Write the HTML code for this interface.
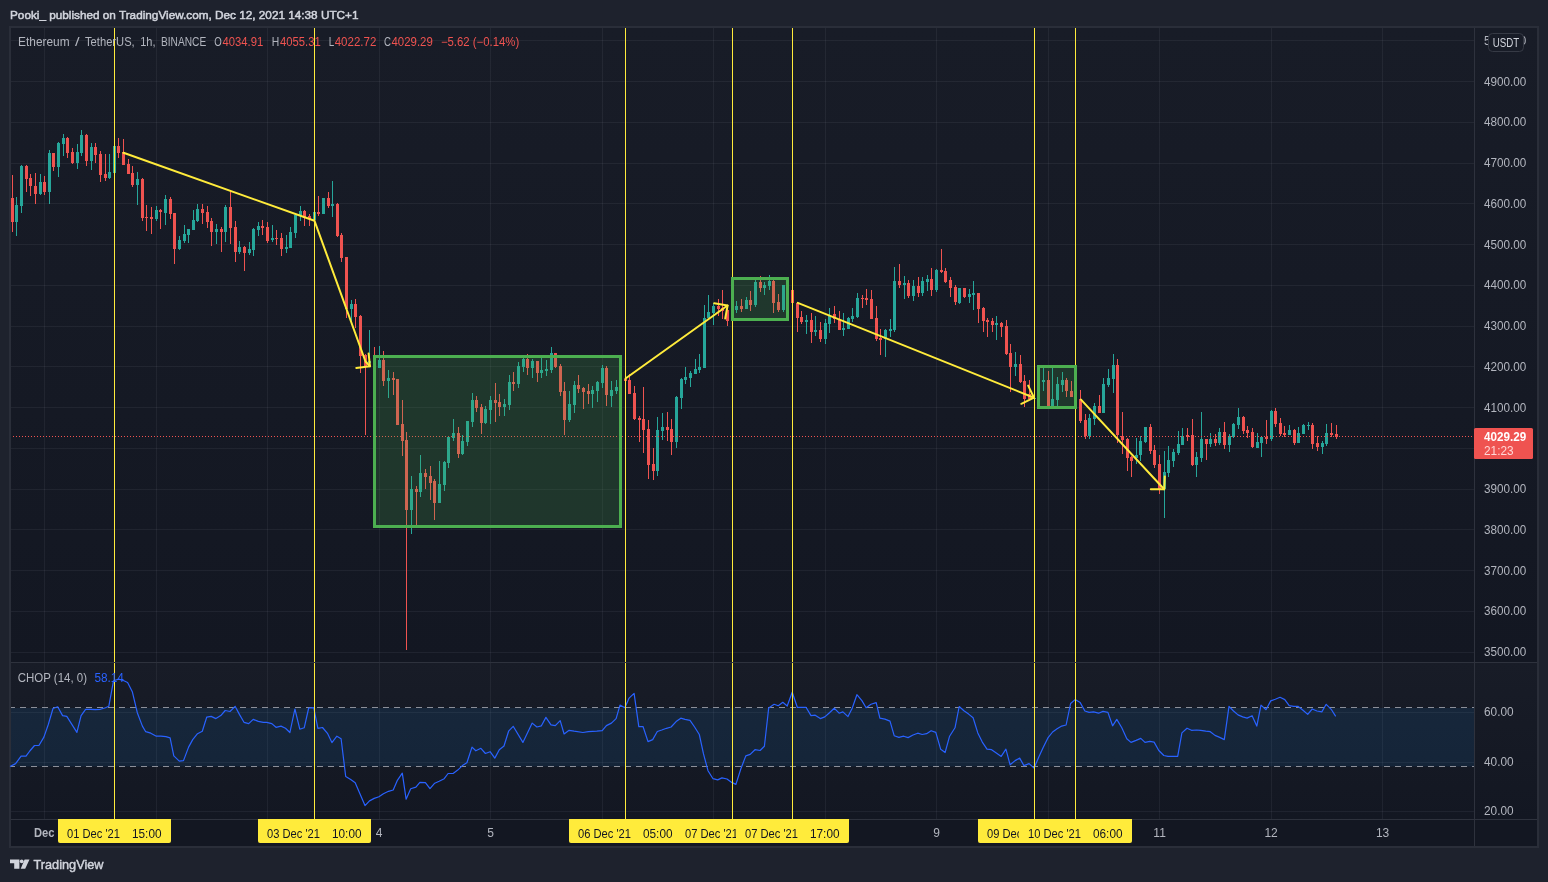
<!DOCTYPE html>
<html><head><meta charset="utf-8"><title>ETHUSDT chart</title>
<style>html,body{margin:0;padding:0;background:#1e222d;overflow:hidden}body{width:1548px;height:882px;font-family:"Liberation Sans",sans-serif}</style></head>
<body>
<svg width="1548" height="882" viewBox="0 0 1548 882" style="display:block;will-change:transform" font-family="Liberation Sans, sans-serif" font-size="12">
<rect width="1548" height="882" fill="#1e222d"/>
<rect x="9" y="26" width="1530" height="822" fill="#2a2e39"/>
<defs><linearGradient id="pg" x1="0" y1="0" x2="0" y2="1"><stop offset="0" stop-color="#181c27"/><stop offset="1" stop-color="#131722"/></linearGradient></defs>
<rect x="11" y="28" width="1526" height="634" fill="url(#pg)"/>
<rect x="11" y="662" width="1526" height="157" fill="url(#pg)"/>
<rect x="11" y="819" width="1526" height="27" fill="#131722"/>
<g fill="#f0f3fa" fill-opacity="0.06" shape-rendering="crispEdges">
<rect x="44" y="28" width="1" height="634"/>
<rect x="44" y="663" width="1" height="156"/>
<rect x="156" y="28" width="1" height="634"/>
<rect x="156" y="663" width="1" height="156"/>
<rect x="267" y="28" width="1" height="634"/>
<rect x="267" y="663" width="1" height="156"/>
<rect x="379" y="28" width="1" height="634"/>
<rect x="379" y="663" width="1" height="156"/>
<rect x="490" y="28" width="1" height="634"/>
<rect x="490" y="663" width="1" height="156"/>
<rect x="602" y="28" width="1" height="634"/>
<rect x="602" y="663" width="1" height="156"/>
<rect x="713" y="28" width="1" height="634"/>
<rect x="713" y="663" width="1" height="156"/>
<rect x="825" y="28" width="1" height="634"/>
<rect x="825" y="663" width="1" height="156"/>
<rect x="936" y="28" width="1" height="634"/>
<rect x="936" y="663" width="1" height="156"/>
<rect x="1048" y="28" width="1" height="634"/>
<rect x="1048" y="663" width="1" height="156"/>
<rect x="1159" y="28" width="1" height="634"/>
<rect x="1159" y="663" width="1" height="156"/>
<rect x="1271" y="28" width="1" height="634"/>
<rect x="1271" y="663" width="1" height="156"/>
<rect x="1382" y="28" width="1" height="634"/>
<rect x="1382" y="663" width="1" height="156"/>
<rect x="11" y="40" width="1463" height="1"/>
<rect x="11" y="81" width="1463" height="1"/>
<rect x="11" y="122" width="1463" height="1"/>
<rect x="11" y="163" width="1463" height="1"/>
<rect x="11" y="203" width="1463" height="1"/>
<rect x="11" y="244" width="1463" height="1"/>
<rect x="11" y="285" width="1463" height="1"/>
<rect x="11" y="326" width="1463" height="1"/>
<rect x="11" y="366" width="1463" height="1"/>
<rect x="11" y="407" width="1463" height="1"/>
<rect x="11" y="448" width="1463" height="1"/>
<rect x="11" y="489" width="1463" height="1"/>
<rect x="11" y="529" width="1463" height="1"/>
<rect x="11" y="570" width="1463" height="1"/>
<rect x="11" y="611" width="1463" height="1"/>
<rect x="11" y="652" width="1463" height="1"/>
<rect x="11" y="712" width="1463" height="1"/>
<rect x="11" y="762" width="1463" height="1"/>
<rect x="11" y="811" width="1463" height="1"/>
</g>
<rect x="11" y="708" width="1463" height="58.5" fill="#2196f3" fill-opacity="0.1"/>
<g shape-rendering="crispEdges">
<rect x="12" y="175" width="1" height="57" fill="#ef5350"/>
<rect x="11" y="198" width="3" height="24" fill="#ef5350"/>
<rect x="16" y="197" width="1" height="39" fill="#26a69a"/>
<rect x="15" y="205" width="3" height="17" fill="#26a69a"/>
<rect x="21" y="165" width="1" height="48" fill="#26a69a"/>
<rect x="20" y="166" width="3" height="40" fill="#26a69a"/>
<rect x="26" y="165" width="1" height="27" fill="#ef5350"/>
<rect x="25" y="166" width="3" height="13" fill="#ef5350"/>
<rect x="30" y="174" width="1" height="22" fill="#ef5350"/>
<rect x="29" y="178" width="3" height="8" fill="#ef5350"/>
<rect x="35" y="173" width="1" height="31" fill="#ef5350"/>
<rect x="34" y="186" width="3" height="8" fill="#ef5350"/>
<rect x="40" y="174" width="1" height="21" fill="#26a69a"/>
<rect x="39" y="182" width="3" height="12" fill="#26a69a"/>
<rect x="44" y="176" width="1" height="19" fill="#ef5350"/>
<rect x="43" y="182" width="3" height="10" fill="#ef5350"/>
<rect x="49" y="150" width="1" height="54" fill="#26a69a"/>
<rect x="48" y="153" width="3" height="39" fill="#26a69a"/>
<rect x="53" y="153" width="1" height="18" fill="#ef5350"/>
<rect x="52" y="153" width="3" height="14" fill="#ef5350"/>
<rect x="58" y="142" width="1" height="35" fill="#26a69a"/>
<rect x="57" y="143" width="3" height="24" fill="#26a69a"/>
<rect x="63" y="134" width="1" height="22" fill="#26a69a"/>
<rect x="62" y="138" width="3" height="6" fill="#26a69a"/>
<rect x="67" y="137" width="1" height="21" fill="#ef5350"/>
<rect x="66" y="138" width="3" height="15" fill="#ef5350"/>
<rect x="72" y="148" width="1" height="16" fill="#ef5350"/>
<rect x="71" y="152" width="3" height="11" fill="#ef5350"/>
<rect x="77" y="144" width="1" height="25" fill="#26a69a"/>
<rect x="76" y="152" width="3" height="11" fill="#26a69a"/>
<rect x="81" y="130" width="1" height="26" fill="#26a69a"/>
<rect x="80" y="135" width="3" height="18" fill="#26a69a"/>
<rect x="86" y="134" width="1" height="32" fill="#ef5350"/>
<rect x="85" y="135" width="3" height="26" fill="#ef5350"/>
<rect x="91" y="143" width="1" height="27" fill="#26a69a"/>
<rect x="90" y="147" width="3" height="14" fill="#26a69a"/>
<rect x="95" y="143" width="1" height="20" fill="#ef5350"/>
<rect x="94" y="147" width="3" height="8" fill="#ef5350"/>
<rect x="100" y="151" width="1" height="31" fill="#ef5350"/>
<rect x="99" y="154" width="3" height="21" fill="#ef5350"/>
<rect x="105" y="154" width="1" height="27" fill="#ef5350"/>
<rect x="104" y="174" width="3" height="4" fill="#ef5350"/>
<rect x="109" y="154" width="1" height="25" fill="#26a69a"/>
<rect x="108" y="172" width="3" height="6" fill="#26a69a"/>
<rect x="114" y="142" width="1" height="31" fill="#26a69a"/>
<rect x="113" y="146" width="3" height="27" fill="#26a69a"/>
<rect x="118" y="138" width="1" height="20" fill="#ef5350"/>
<rect x="117" y="146" width="3" height="7" fill="#ef5350"/>
<rect x="123" y="139" width="1" height="26" fill="#ef5350"/>
<rect x="122" y="152" width="3" height="13" fill="#ef5350"/>
<rect x="128" y="159" width="1" height="15" fill="#ef5350"/>
<rect x="127" y="164" width="3" height="10" fill="#ef5350"/>
<rect x="132" y="166" width="1" height="21" fill="#ef5350"/>
<rect x="131" y="173" width="3" height="12" fill="#ef5350"/>
<rect x="137" y="172" width="1" height="33" fill="#26a69a"/>
<rect x="136" y="179" width="3" height="6" fill="#26a69a"/>
<rect x="142" y="178" width="1" height="43" fill="#ef5350"/>
<rect x="141" y="179" width="3" height="39" fill="#ef5350"/>
<rect x="146" y="205" width="1" height="26" fill="#ef5350"/>
<rect x="145" y="217" width="3" height="1" fill="#ef5350"/>
<rect x="151" y="207" width="1" height="27" fill="#ef5350"/>
<rect x="150" y="217" width="3" height="2" fill="#ef5350"/>
<rect x="156" y="206" width="1" height="15" fill="#26a69a"/>
<rect x="155" y="210" width="3" height="9" fill="#26a69a"/>
<rect x="160" y="209" width="1" height="20" fill="#ef5350"/>
<rect x="159" y="210" width="3" height="2" fill="#ef5350"/>
<rect x="165" y="195" width="1" height="30" fill="#26a69a"/>
<rect x="164" y="199" width="3" height="14" fill="#26a69a"/>
<rect x="170" y="197" width="1" height="22" fill="#ef5350"/>
<rect x="169" y="199" width="3" height="15" fill="#ef5350"/>
<rect x="174" y="213" width="1" height="51" fill="#ef5350"/>
<rect x="173" y="213" width="3" height="36" fill="#ef5350"/>
<rect x="179" y="236" width="1" height="14" fill="#26a69a"/>
<rect x="178" y="240" width="3" height="9" fill="#26a69a"/>
<rect x="184" y="225" width="1" height="18" fill="#26a69a"/>
<rect x="183" y="234" width="3" height="7" fill="#26a69a"/>
<rect x="188" y="229" width="1" height="14" fill="#26a69a"/>
<rect x="187" y="229" width="3" height="6" fill="#26a69a"/>
<rect x="193" y="210" width="1" height="20" fill="#26a69a"/>
<rect x="192" y="220" width="3" height="10" fill="#26a69a"/>
<rect x="197" y="204" width="1" height="18" fill="#26a69a"/>
<rect x="196" y="209" width="3" height="12" fill="#26a69a"/>
<rect x="202" y="204" width="1" height="20" fill="#ef5350"/>
<rect x="201" y="209" width="3" height="4" fill="#ef5350"/>
<rect x="207" y="206" width="1" height="22" fill="#ef5350"/>
<rect x="206" y="212" width="3" height="10" fill="#ef5350"/>
<rect x="211" y="218" width="1" height="28" fill="#ef5350"/>
<rect x="210" y="221" width="3" height="11" fill="#ef5350"/>
<rect x="216" y="224" width="1" height="20" fill="#26a69a"/>
<rect x="215" y="229" width="3" height="3" fill="#26a69a"/>
<rect x="221" y="227" width="1" height="25" fill="#ef5350"/>
<rect x="220" y="229" width="3" height="3" fill="#ef5350"/>
<rect x="225" y="205" width="1" height="37" fill="#26a69a"/>
<rect x="224" y="207" width="3" height="25" fill="#26a69a"/>
<rect x="230" y="190" width="1" height="54" fill="#ef5350"/>
<rect x="229" y="207" width="3" height="21" fill="#ef5350"/>
<rect x="235" y="221" width="1" height="41" fill="#ef5350"/>
<rect x="234" y="227" width="3" height="25" fill="#ef5350"/>
<rect x="239" y="241" width="1" height="13" fill="#26a69a"/>
<rect x="238" y="247" width="3" height="5" fill="#26a69a"/>
<rect x="244" y="246" width="1" height="25" fill="#ef5350"/>
<rect x="243" y="247" width="3" height="6" fill="#ef5350"/>
<rect x="249" y="242" width="1" height="13" fill="#26a69a"/>
<rect x="248" y="249" width="3" height="4" fill="#26a69a"/>
<rect x="253" y="228" width="1" height="28" fill="#26a69a"/>
<rect x="252" y="229" width="3" height="21" fill="#26a69a"/>
<rect x="258" y="222" width="1" height="14" fill="#26a69a"/>
<rect x="257" y="226" width="3" height="4" fill="#26a69a"/>
<rect x="262" y="220" width="1" height="15" fill="#ef5350"/>
<rect x="261" y="226" width="3" height="2" fill="#ef5350"/>
<rect x="267" y="222" width="1" height="21" fill="#ef5350"/>
<rect x="266" y="227" width="3" height="14" fill="#ef5350"/>
<rect x="272" y="225" width="1" height="17" fill="#26a69a"/>
<rect x="271" y="238" width="3" height="2" fill="#26a69a"/>
<rect x="276" y="230" width="1" height="15" fill="#ef5350"/>
<rect x="275" y="238" width="3" height="1" fill="#ef5350"/>
<rect x="281" y="233" width="1" height="23" fill="#ef5350"/>
<rect x="280" y="238" width="3" height="11" fill="#ef5350"/>
<rect x="286" y="235" width="1" height="18" fill="#26a69a"/>
<rect x="285" y="247" width="3" height="2" fill="#26a69a"/>
<rect x="290" y="227" width="1" height="21" fill="#26a69a"/>
<rect x="289" y="232" width="3" height="16" fill="#26a69a"/>
<rect x="295" y="215" width="1" height="23" fill="#26a69a"/>
<rect x="294" y="215" width="3" height="18" fill="#26a69a"/>
<rect x="300" y="206" width="1" height="15" fill="#26a69a"/>
<rect x="299" y="211" width="3" height="4" fill="#26a69a"/>
<rect x="304" y="210" width="1" height="16" fill="#ef5350"/>
<rect x="303" y="211" width="3" height="7" fill="#ef5350"/>
<rect x="309" y="214" width="1" height="12" fill="#ef5350"/>
<rect x="308" y="216" width="3" height="3" fill="#ef5350"/>
<rect x="314" y="211" width="1" height="10" fill="#26a69a"/>
<rect x="313" y="212" width="3" height="8" fill="#26a69a"/>
<rect x="318" y="196" width="1" height="20" fill="#ef5350"/>
<rect x="317" y="212" width="3" height="2" fill="#ef5350"/>
<rect x="323" y="198" width="1" height="16" fill="#26a69a"/>
<rect x="322" y="198" width="3" height="16" fill="#26a69a"/>
<rect x="328" y="192" width="1" height="16" fill="#ef5350"/>
<rect x="327" y="198" width="3" height="8" fill="#ef5350"/>
<rect x="332" y="181" width="1" height="36" fill="#26a69a"/>
<rect x="331" y="204" width="3" height="2" fill="#26a69a"/>
<rect x="337" y="203" width="1" height="34" fill="#ef5350"/>
<rect x="336" y="204" width="3" height="32" fill="#ef5350"/>
<rect x="341" y="233" width="1" height="29" fill="#ef5350"/>
<rect x="340" y="235" width="3" height="23" fill="#ef5350"/>
<rect x="346" y="257" width="1" height="61" fill="#ef5350"/>
<rect x="345" y="257" width="3" height="52" fill="#ef5350"/>
<rect x="351" y="300" width="1" height="22" fill="#26a69a"/>
<rect x="350" y="304" width="3" height="5" fill="#26a69a"/>
<rect x="355" y="299" width="1" height="29" fill="#ef5350"/>
<rect x="354" y="304" width="3" height="13" fill="#ef5350"/>
<rect x="360" y="315" width="1" height="58" fill="#ef5350"/>
<rect x="359" y="316" width="3" height="40" fill="#ef5350"/>
<rect x="365" y="354" width="1" height="81" fill="#ef5350"/>
<rect x="364" y="355" width="3" height="11" fill="#ef5350"/>
<rect x="369" y="330" width="1" height="35" fill="#26a69a"/>
<rect x="368" y="361" width="3" height="2" fill="#26a69a"/>
<rect x="374" y="347" width="1" height="20" fill="#ef5350"/>
<rect x="373" y="356" width="3" height="9" fill="#ef5350"/>
<rect x="379" y="346" width="1" height="22" fill="#26a69a"/>
<rect x="378" y="360" width="3" height="8" fill="#26a69a"/>
<rect x="383" y="351" width="1" height="35" fill="#ef5350"/>
<rect x="382" y="360" width="3" height="21" fill="#ef5350"/>
<rect x="388" y="370" width="1" height="28" fill="#26a69a"/>
<rect x="387" y="378" width="3" height="3" fill="#26a69a"/>
<rect x="393" y="372" width="1" height="23" fill="#ef5350"/>
<rect x="392" y="378" width="3" height="2" fill="#ef5350"/>
<rect x="397" y="379" width="1" height="46" fill="#ef5350"/>
<rect x="396" y="379" width="3" height="46" fill="#ef5350"/>
<rect x="402" y="400" width="1" height="56" fill="#ef5350"/>
<rect x="401" y="424" width="3" height="17" fill="#ef5350"/>
<rect x="406" y="432" width="1" height="218" fill="#ef5350"/>
<rect x="405" y="440" width="3" height="70" fill="#ef5350"/>
<rect x="411" y="476" width="1" height="58" fill="#26a69a"/>
<rect x="410" y="489" width="3" height="21" fill="#26a69a"/>
<rect x="416" y="486" width="1" height="39" fill="#ef5350"/>
<rect x="415" y="489" width="3" height="3" fill="#ef5350"/>
<rect x="420" y="455" width="1" height="42" fill="#26a69a"/>
<rect x="419" y="473" width="3" height="19" fill="#26a69a"/>
<rect x="425" y="469" width="1" height="20" fill="#ef5350"/>
<rect x="424" y="473" width="3" height="4" fill="#ef5350"/>
<rect x="430" y="466" width="1" height="34" fill="#ef5350"/>
<rect x="429" y="476" width="3" height="7" fill="#ef5350"/>
<rect x="434" y="479" width="1" height="41" fill="#ef5350"/>
<rect x="433" y="481" width="3" height="22" fill="#ef5350"/>
<rect x="439" y="461" width="1" height="42" fill="#26a69a"/>
<rect x="438" y="484" width="3" height="19" fill="#26a69a"/>
<rect x="444" y="461" width="1" height="30" fill="#26a69a"/>
<rect x="443" y="462" width="3" height="23" fill="#26a69a"/>
<rect x="448" y="436" width="1" height="32" fill="#26a69a"/>
<rect x="447" y="437" width="3" height="26" fill="#26a69a"/>
<rect x="453" y="419" width="1" height="22" fill="#26a69a"/>
<rect x="452" y="433" width="3" height="5" fill="#26a69a"/>
<rect x="458" y="427" width="1" height="31" fill="#ef5350"/>
<rect x="457" y="433" width="3" height="21" fill="#ef5350"/>
<rect x="462" y="435" width="1" height="20" fill="#26a69a"/>
<rect x="461" y="441" width="3" height="13" fill="#26a69a"/>
<rect x="467" y="421" width="1" height="25" fill="#26a69a"/>
<rect x="466" y="421" width="3" height="21" fill="#26a69a"/>
<rect x="472" y="393" width="1" height="34" fill="#26a69a"/>
<rect x="471" y="400" width="3" height="22" fill="#26a69a"/>
<rect x="476" y="396" width="1" height="16" fill="#ef5350"/>
<rect x="475" y="400" width="3" height="8" fill="#ef5350"/>
<rect x="481" y="404" width="1" height="30" fill="#ef5350"/>
<rect x="480" y="407" width="3" height="16" fill="#ef5350"/>
<rect x="485" y="406" width="1" height="18" fill="#26a69a"/>
<rect x="484" y="409" width="3" height="14" fill="#26a69a"/>
<rect x="490" y="396" width="1" height="28" fill="#26a69a"/>
<rect x="489" y="400" width="3" height="10" fill="#26a69a"/>
<rect x="495" y="383" width="1" height="39" fill="#ef5350"/>
<rect x="494" y="400" width="3" height="3" fill="#ef5350"/>
<rect x="499" y="394" width="1" height="22" fill="#ef5350"/>
<rect x="498" y="402" width="3" height="5" fill="#ef5350"/>
<rect x="504" y="399" width="1" height="17" fill="#26a69a"/>
<rect x="503" y="404" width="3" height="3" fill="#26a69a"/>
<rect x="509" y="375" width="1" height="35" fill="#26a69a"/>
<rect x="508" y="382" width="3" height="23" fill="#26a69a"/>
<rect x="513" y="372" width="1" height="19" fill="#ef5350"/>
<rect x="512" y="382" width="3" height="2" fill="#ef5350"/>
<rect x="518" y="362" width="1" height="26" fill="#26a69a"/>
<rect x="517" y="366" width="3" height="18" fill="#26a69a"/>
<rect x="523" y="358" width="1" height="14" fill="#26a69a"/>
<rect x="522" y="359" width="3" height="8" fill="#26a69a"/>
<rect x="527" y="354" width="1" height="21" fill="#ef5350"/>
<rect x="526" y="359" width="3" height="9" fill="#ef5350"/>
<rect x="532" y="359" width="1" height="19" fill="#26a69a"/>
<rect x="531" y="361" width="3" height="7" fill="#26a69a"/>
<rect x="537" y="361" width="1" height="21" fill="#ef5350"/>
<rect x="536" y="361" width="3" height="12" fill="#ef5350"/>
<rect x="541" y="358" width="1" height="20" fill="#26a69a"/>
<rect x="540" y="370" width="3" height="3" fill="#26a69a"/>
<rect x="546" y="360" width="1" height="16" fill="#26a69a"/>
<rect x="545" y="369" width="3" height="2" fill="#26a69a"/>
<rect x="551" y="347" width="1" height="26" fill="#26a69a"/>
<rect x="550" y="353" width="3" height="17" fill="#26a69a"/>
<rect x="555" y="353" width="1" height="15" fill="#ef5350"/>
<rect x="554" y="353" width="3" height="14" fill="#ef5350"/>
<rect x="560" y="364" width="1" height="32" fill="#ef5350"/>
<rect x="559" y="366" width="3" height="26" fill="#ef5350"/>
<rect x="564" y="382" width="1" height="53" fill="#ef5350"/>
<rect x="563" y="391" width="3" height="29" fill="#ef5350"/>
<rect x="569" y="391" width="1" height="31" fill="#26a69a"/>
<rect x="568" y="404" width="3" height="16" fill="#26a69a"/>
<rect x="574" y="381" width="1" height="32" fill="#26a69a"/>
<rect x="573" y="385" width="3" height="20" fill="#26a69a"/>
<rect x="578" y="375" width="1" height="18" fill="#ef5350"/>
<rect x="577" y="385" width="3" height="4" fill="#ef5350"/>
<rect x="583" y="387" width="1" height="22" fill="#ef5350"/>
<rect x="582" y="388" width="3" height="4" fill="#ef5350"/>
<rect x="588" y="384" width="1" height="20" fill="#ef5350"/>
<rect x="587" y="391" width="3" height="3" fill="#ef5350"/>
<rect x="592" y="386" width="1" height="22" fill="#26a69a"/>
<rect x="591" y="390" width="3" height="4" fill="#26a69a"/>
<rect x="597" y="381" width="1" height="21" fill="#26a69a"/>
<rect x="596" y="382" width="3" height="9" fill="#26a69a"/>
<rect x="602" y="365" width="1" height="23" fill="#26a69a"/>
<rect x="601" y="368" width="3" height="15" fill="#26a69a"/>
<rect x="606" y="366" width="1" height="40" fill="#ef5350"/>
<rect x="605" y="368" width="3" height="27" fill="#ef5350"/>
<rect x="611" y="381" width="1" height="26" fill="#26a69a"/>
<rect x="610" y="390" width="3" height="6" fill="#26a69a"/>
<rect x="616" y="380" width="1" height="14" fill="#26a69a"/>
<rect x="615" y="387" width="3" height="4" fill="#26a69a"/>
<rect x="620" y="382" width="1" height="14" fill="#ef5350"/>
<rect x="619" y="389" width="3" height="3" fill="#ef5350"/>
<rect x="625" y="378" width="1" height="5" fill="#ef5350"/>
<rect x="624" y="379" width="3" height="2" fill="#ef5350"/>
<rect x="629" y="374" width="1" height="20" fill="#ef5350"/>
<rect x="628" y="380" width="3" height="14" fill="#ef5350"/>
<rect x="634" y="386" width="1" height="34" fill="#ef5350"/>
<rect x="633" y="393" width="3" height="26" fill="#ef5350"/>
<rect x="639" y="416" width="1" height="26" fill="#ef5350"/>
<rect x="638" y="418" width="3" height="2" fill="#ef5350"/>
<rect x="643" y="387" width="1" height="66" fill="#ef5350"/>
<rect x="642" y="419" width="3" height="11" fill="#ef5350"/>
<rect x="648" y="420" width="1" height="59" fill="#ef5350"/>
<rect x="647" y="429" width="3" height="36" fill="#ef5350"/>
<rect x="653" y="448" width="1" height="32" fill="#ef5350"/>
<rect x="652" y="464" width="3" height="7" fill="#ef5350"/>
<rect x="657" y="417" width="1" height="59" fill="#26a69a"/>
<rect x="656" y="430" width="3" height="41" fill="#26a69a"/>
<rect x="662" y="413" width="1" height="27" fill="#26a69a"/>
<rect x="661" y="427" width="3" height="4" fill="#26a69a"/>
<rect x="667" y="412" width="1" height="29" fill="#ef5350"/>
<rect x="666" y="427" width="3" height="3" fill="#ef5350"/>
<rect x="671" y="419" width="1" height="36" fill="#ef5350"/>
<rect x="670" y="429" width="3" height="13" fill="#ef5350"/>
<rect x="676" y="396" width="1" height="52" fill="#26a69a"/>
<rect x="675" y="397" width="3" height="45" fill="#26a69a"/>
<rect x="681" y="378" width="1" height="31" fill="#26a69a"/>
<rect x="680" y="379" width="3" height="19" fill="#26a69a"/>
<rect x="685" y="367" width="1" height="17" fill="#26a69a"/>
<rect x="684" y="377" width="3" height="3" fill="#26a69a"/>
<rect x="690" y="371" width="1" height="16" fill="#26a69a"/>
<rect x="689" y="373" width="3" height="5" fill="#26a69a"/>
<rect x="695" y="359" width="1" height="15" fill="#26a69a"/>
<rect x="694" y="369" width="3" height="5" fill="#26a69a"/>
<rect x="699" y="354" width="1" height="19" fill="#26a69a"/>
<rect x="698" y="367" width="3" height="3" fill="#26a69a"/>
<rect x="704" y="305" width="1" height="63" fill="#26a69a"/>
<rect x="703" y="318" width="3" height="50" fill="#26a69a"/>
<rect x="708" y="295" width="1" height="23" fill="#26a69a"/>
<rect x="707" y="312" width="3" height="6" fill="#26a69a"/>
<rect x="713" y="303" width="1" height="22" fill="#26a69a"/>
<rect x="712" y="306" width="3" height="7" fill="#26a69a"/>
<rect x="718" y="299" width="1" height="17" fill="#ef5350"/>
<rect x="717" y="306" width="3" height="3" fill="#ef5350"/>
<rect x="722" y="290" width="1" height="29" fill="#ef5350"/>
<rect x="721" y="308" width="3" height="3" fill="#ef5350"/>
<rect x="727" y="309" width="1" height="17" fill="#ef5350"/>
<rect x="726" y="310" width="3" height="11" fill="#ef5350"/>
<rect x="732" y="302" width="1" height="11" fill="#26a69a"/>
<rect x="731" y="305" width="3" height="6" fill="#26a69a"/>
<rect x="736" y="301" width="1" height="12" fill="#26a69a"/>
<rect x="735" y="306" width="3" height="4" fill="#26a69a"/>
<rect x="741" y="299" width="1" height="13" fill="#ef5350"/>
<rect x="740" y="306" width="3" height="3" fill="#ef5350"/>
<rect x="746" y="297" width="1" height="12" fill="#26a69a"/>
<rect x="745" y="300" width="3" height="9" fill="#26a69a"/>
<rect x="750" y="291" width="1" height="20" fill="#ef5350"/>
<rect x="749" y="300" width="3" height="5" fill="#ef5350"/>
<rect x="755" y="280" width="1" height="27" fill="#26a69a"/>
<rect x="754" y="282" width="3" height="23" fill="#26a69a"/>
<rect x="760" y="276" width="1" height="16" fill="#ef5350"/>
<rect x="759" y="282" width="3" height="6" fill="#ef5350"/>
<rect x="764" y="282" width="1" height="13" fill="#26a69a"/>
<rect x="763" y="285" width="3" height="3" fill="#26a69a"/>
<rect x="769" y="275" width="1" height="15" fill="#26a69a"/>
<rect x="768" y="281" width="3" height="5" fill="#26a69a"/>
<rect x="773" y="280" width="1" height="33" fill="#ef5350"/>
<rect x="772" y="281" width="3" height="22" fill="#ef5350"/>
<rect x="778" y="294" width="1" height="18" fill="#ef5350"/>
<rect x="777" y="302" width="3" height="8" fill="#ef5350"/>
<rect x="783" y="285" width="1" height="27" fill="#26a69a"/>
<rect x="782" y="285" width="3" height="25" fill="#26a69a"/>
<rect x="787" y="284" width="1" height="8" fill="#ef5350"/>
<rect x="786" y="285" width="3" height="5" fill="#ef5350"/>
<rect x="792" y="288" width="1" height="16" fill="#ef5350"/>
<rect x="791" y="290" width="3" height="13" fill="#ef5350"/>
<rect x="797" y="303" width="1" height="29" fill="#ef5350"/>
<rect x="796" y="303" width="3" height="15" fill="#ef5350"/>
<rect x="801" y="311" width="1" height="13" fill="#ef5350"/>
<rect x="800" y="317" width="3" height="5" fill="#ef5350"/>
<rect x="806" y="315" width="1" height="19" fill="#26a69a"/>
<rect x="805" y="320" width="3" height="2" fill="#26a69a"/>
<rect x="811" y="313" width="1" height="30" fill="#ef5350"/>
<rect x="810" y="320" width="3" height="12" fill="#ef5350"/>
<rect x="815" y="316" width="1" height="20" fill="#26a69a"/>
<rect x="814" y="330" width="3" height="2" fill="#26a69a"/>
<rect x="820" y="322" width="1" height="20" fill="#ef5350"/>
<rect x="819" y="330" width="3" height="9" fill="#ef5350"/>
<rect x="825" y="319" width="1" height="25" fill="#26a69a"/>
<rect x="824" y="323" width="3" height="16" fill="#26a69a"/>
<rect x="829" y="308" width="1" height="25" fill="#26a69a"/>
<rect x="828" y="316" width="3" height="8" fill="#26a69a"/>
<rect x="834" y="306" width="1" height="17" fill="#ef5350"/>
<rect x="833" y="314" width="3" height="5" fill="#ef5350"/>
<rect x="839" y="311" width="1" height="19" fill="#ef5350"/>
<rect x="838" y="319" width="3" height="11" fill="#ef5350"/>
<rect x="843" y="313" width="1" height="23" fill="#26a69a"/>
<rect x="842" y="328" width="3" height="2" fill="#26a69a"/>
<rect x="848" y="317" width="1" height="12" fill="#26a69a"/>
<rect x="847" y="318" width="3" height="11" fill="#26a69a"/>
<rect x="852" y="308" width="1" height="14" fill="#26a69a"/>
<rect x="851" y="316" width="3" height="3" fill="#26a69a"/>
<rect x="857" y="293" width="1" height="25" fill="#26a69a"/>
<rect x="856" y="298" width="3" height="19" fill="#26a69a"/>
<rect x="862" y="295" width="1" height="13" fill="#ef5350"/>
<rect x="861" y="298" width="3" height="1" fill="#ef5350"/>
<rect x="866" y="289" width="1" height="16" fill="#ef5350"/>
<rect x="865" y="298" width="3" height="2" fill="#ef5350"/>
<rect x="871" y="290" width="1" height="29" fill="#ef5350"/>
<rect x="870" y="299" width="3" height="20" fill="#ef5350"/>
<rect x="876" y="306" width="1" height="35" fill="#ef5350"/>
<rect x="875" y="318" width="3" height="21" fill="#ef5350"/>
<rect x="880" y="329" width="1" height="26" fill="#ef5350"/>
<rect x="879" y="338" width="3" height="2" fill="#ef5350"/>
<rect x="885" y="329" width="1" height="28" fill="#26a69a"/>
<rect x="884" y="330" width="3" height="9" fill="#26a69a"/>
<rect x="890" y="319" width="1" height="18" fill="#26a69a"/>
<rect x="889" y="329" width="3" height="2" fill="#26a69a"/>
<rect x="894" y="267" width="1" height="65" fill="#26a69a"/>
<rect x="893" y="281" width="3" height="49" fill="#26a69a"/>
<rect x="899" y="264" width="1" height="24" fill="#ef5350"/>
<rect x="898" y="281" width="3" height="4" fill="#ef5350"/>
<rect x="904" y="276" width="1" height="23" fill="#26a69a"/>
<rect x="903" y="283" width="3" height="2" fill="#26a69a"/>
<rect x="908" y="280" width="1" height="18" fill="#ef5350"/>
<rect x="907" y="283" width="3" height="13" fill="#ef5350"/>
<rect x="913" y="280" width="1" height="21" fill="#26a69a"/>
<rect x="912" y="286" width="3" height="10" fill="#26a69a"/>
<rect x="918" y="277" width="1" height="20" fill="#ef5350"/>
<rect x="917" y="286" width="3" height="7" fill="#ef5350"/>
<rect x="922" y="277" width="1" height="19" fill="#26a69a"/>
<rect x="921" y="281" width="3" height="12" fill="#26a69a"/>
<rect x="927" y="275" width="1" height="16" fill="#26a69a"/>
<rect x="926" y="279" width="3" height="3" fill="#26a69a"/>
<rect x="931" y="268" width="1" height="28" fill="#ef5350"/>
<rect x="930" y="279" width="3" height="11" fill="#ef5350"/>
<rect x="936" y="269" width="1" height="23" fill="#26a69a"/>
<rect x="935" y="270" width="3" height="20" fill="#26a69a"/>
<rect x="941" y="249" width="1" height="24" fill="#ef5350"/>
<rect x="940" y="270" width="3" height="2" fill="#ef5350"/>
<rect x="945" y="268" width="1" height="15" fill="#ef5350"/>
<rect x="944" y="271" width="3" height="11" fill="#ef5350"/>
<rect x="950" y="277" width="1" height="20" fill="#ef5350"/>
<rect x="949" y="280" width="3" height="8" fill="#ef5350"/>
<rect x="955" y="285" width="1" height="20" fill="#ef5350"/>
<rect x="954" y="287" width="3" height="15" fill="#ef5350"/>
<rect x="959" y="288" width="1" height="16" fill="#26a69a"/>
<rect x="958" y="288" width="3" height="15" fill="#26a69a"/>
<rect x="964" y="288" width="1" height="10" fill="#ef5350"/>
<rect x="963" y="288" width="3" height="9" fill="#ef5350"/>
<rect x="969" y="289" width="1" height="14" fill="#26a69a"/>
<rect x="968" y="294" width="3" height="3" fill="#26a69a"/>
<rect x="973" y="281" width="1" height="29" fill="#26a69a"/>
<rect x="972" y="293" width="3" height="2" fill="#26a69a"/>
<rect x="978" y="293" width="1" height="30" fill="#ef5350"/>
<rect x="977" y="293" width="3" height="16" fill="#ef5350"/>
<rect x="983" y="307" width="1" height="25" fill="#ef5350"/>
<rect x="982" y="308" width="3" height="13" fill="#ef5350"/>
<rect x="987" y="318" width="1" height="19" fill="#ef5350"/>
<rect x="986" y="320" width="3" height="2" fill="#ef5350"/>
<rect x="992" y="318" width="1" height="14" fill="#ef5350"/>
<rect x="991" y="321" width="3" height="4" fill="#ef5350"/>
<rect x="996" y="316" width="1" height="24" fill="#26a69a"/>
<rect x="995" y="323" width="3" height="2" fill="#26a69a"/>
<rect x="1001" y="322" width="1" height="15" fill="#ef5350"/>
<rect x="1000" y="323" width="3" height="4" fill="#ef5350"/>
<rect x="1006" y="320" width="1" height="35" fill="#ef5350"/>
<rect x="1005" y="326" width="3" height="28" fill="#ef5350"/>
<rect x="1010" y="344" width="1" height="48" fill="#ef5350"/>
<rect x="1009" y="353" width="3" height="14" fill="#ef5350"/>
<rect x="1015" y="352" width="1" height="24" fill="#26a69a"/>
<rect x="1014" y="364" width="3" height="3" fill="#26a69a"/>
<rect x="1020" y="355" width="1" height="28" fill="#ef5350"/>
<rect x="1019" y="364" width="3" height="18" fill="#ef5350"/>
<rect x="1024" y="375" width="1" height="32" fill="#ef5350"/>
<rect x="1023" y="381" width="3" height="18" fill="#ef5350"/>
<rect x="1029" y="380" width="1" height="19" fill="#ef5350"/>
<rect x="1028" y="394" width="3" height="5" fill="#ef5350"/>
<rect x="1034" y="397" width="1" height="2" fill="#26a69a"/>
<rect x="1033" y="398" width="3" height="1" fill="#26a69a"/>
<rect x="1038" y="372" width="1" height="12" fill="#ef5350"/>
<rect x="1037" y="380" width="3" height="2" fill="#ef5350"/>
<rect x="1043" y="368" width="1" height="23" fill="#26a69a"/>
<rect x="1042" y="380" width="3" height="2" fill="#26a69a"/>
<rect x="1048" y="371" width="1" height="35" fill="#ef5350"/>
<rect x="1047" y="380" width="3" height="26" fill="#ef5350"/>
<rect x="1052" y="368" width="1" height="38" fill="#26a69a"/>
<rect x="1051" y="399" width="3" height="7" fill="#26a69a"/>
<rect x="1057" y="377" width="1" height="29" fill="#26a69a"/>
<rect x="1056" y="384" width="3" height="16" fill="#26a69a"/>
<rect x="1062" y="372" width="1" height="20" fill="#26a69a"/>
<rect x="1061" y="380" width="3" height="5" fill="#26a69a"/>
<rect x="1066" y="378" width="1" height="19" fill="#ef5350"/>
<rect x="1065" y="380" width="3" height="11" fill="#ef5350"/>
<rect x="1071" y="381" width="1" height="16" fill="#ef5350"/>
<rect x="1070" y="391" width="3" height="6" fill="#ef5350"/>
<rect x="1075" y="393" width="1" height="7" fill="#ef5350"/>
<rect x="1074" y="396" width="3" height="3" fill="#ef5350"/>
<rect x="1080" y="390" width="1" height="33" fill="#ef5350"/>
<rect x="1079" y="399" width="3" height="22" fill="#ef5350"/>
<rect x="1085" y="414" width="1" height="25" fill="#ef5350"/>
<rect x="1084" y="420" width="3" height="16" fill="#ef5350"/>
<rect x="1089" y="414" width="1" height="25" fill="#26a69a"/>
<rect x="1088" y="418" width="3" height="18" fill="#26a69a"/>
<rect x="1094" y="403" width="1" height="22" fill="#26a69a"/>
<rect x="1093" y="406" width="3" height="13" fill="#26a69a"/>
<rect x="1099" y="395" width="1" height="18" fill="#ef5350"/>
<rect x="1098" y="406" width="3" height="7" fill="#ef5350"/>
<rect x="1103" y="378" width="1" height="35" fill="#26a69a"/>
<rect x="1102" y="384" width="3" height="29" fill="#26a69a"/>
<rect x="1108" y="369" width="1" height="18" fill="#26a69a"/>
<rect x="1107" y="378" width="3" height="7" fill="#26a69a"/>
<rect x="1113" y="354" width="1" height="39" fill="#26a69a"/>
<rect x="1112" y="365" width="3" height="14" fill="#26a69a"/>
<rect x="1117" y="359" width="1" height="84" fill="#ef5350"/>
<rect x="1116" y="365" width="3" height="70" fill="#ef5350"/>
<rect x="1122" y="412" width="1" height="42" fill="#ef5350"/>
<rect x="1121" y="436" width="3" height="4" fill="#ef5350"/>
<rect x="1127" y="438" width="1" height="33" fill="#ef5350"/>
<rect x="1126" y="439" width="3" height="19" fill="#ef5350"/>
<rect x="1131" y="456" width="1" height="21" fill="#ef5350"/>
<rect x="1130" y="457" width="3" height="4" fill="#ef5350"/>
<rect x="1136" y="438" width="1" height="26" fill="#26a69a"/>
<rect x="1135" y="455" width="3" height="3" fill="#26a69a"/>
<rect x="1140" y="436" width="1" height="25" fill="#26a69a"/>
<rect x="1139" y="441" width="3" height="14" fill="#26a69a"/>
<rect x="1145" y="427" width="1" height="16" fill="#26a69a"/>
<rect x="1144" y="427" width="3" height="15" fill="#26a69a"/>
<rect x="1150" y="424" width="1" height="30" fill="#ef5350"/>
<rect x="1149" y="427" width="3" height="24" fill="#ef5350"/>
<rect x="1154" y="445" width="1" height="23" fill="#ef5350"/>
<rect x="1153" y="450" width="3" height="15" fill="#ef5350"/>
<rect x="1159" y="455" width="1" height="39" fill="#ef5350"/>
<rect x="1158" y="464" width="3" height="25" fill="#ef5350"/>
<rect x="1164" y="451" width="1" height="67" fill="#26a69a"/>
<rect x="1163" y="472" width="3" height="17" fill="#26a69a"/>
<rect x="1168" y="446" width="1" height="31" fill="#26a69a"/>
<rect x="1167" y="460" width="3" height="13" fill="#26a69a"/>
<rect x="1173" y="449" width="1" height="18" fill="#26a69a"/>
<rect x="1172" y="452" width="3" height="9" fill="#26a69a"/>
<rect x="1178" y="431" width="1" height="24" fill="#26a69a"/>
<rect x="1177" y="444" width="3" height="9" fill="#26a69a"/>
<rect x="1182" y="428" width="1" height="17" fill="#26a69a"/>
<rect x="1181" y="436" width="3" height="9" fill="#26a69a"/>
<rect x="1187" y="428" width="1" height="13" fill="#ef5350"/>
<rect x="1186" y="435" width="3" height="2" fill="#ef5350"/>
<rect x="1192" y="419" width="1" height="47" fill="#ef5350"/>
<rect x="1191" y="435" width="3" height="30" fill="#ef5350"/>
<rect x="1196" y="452" width="1" height="25" fill="#26a69a"/>
<rect x="1195" y="457" width="3" height="8" fill="#26a69a"/>
<rect x="1201" y="412" width="1" height="50" fill="#26a69a"/>
<rect x="1200" y="439" width="3" height="19" fill="#26a69a"/>
<rect x="1206" y="439" width="1" height="21" fill="#ef5350"/>
<rect x="1205" y="439" width="3" height="5" fill="#ef5350"/>
<rect x="1210" y="433" width="1" height="14" fill="#26a69a"/>
<rect x="1209" y="439" width="3" height="5" fill="#26a69a"/>
<rect x="1215" y="434" width="1" height="12" fill="#ef5350"/>
<rect x="1214" y="439" width="3" height="4" fill="#ef5350"/>
<rect x="1219" y="428" width="1" height="17" fill="#26a69a"/>
<rect x="1218" y="432" width="3" height="11" fill="#26a69a"/>
<rect x="1224" y="422" width="1" height="27" fill="#ef5350"/>
<rect x="1223" y="432" width="3" height="13" fill="#ef5350"/>
<rect x="1229" y="434" width="1" height="18" fill="#26a69a"/>
<rect x="1228" y="436" width="3" height="9" fill="#26a69a"/>
<rect x="1233" y="423" width="1" height="15" fill="#26a69a"/>
<rect x="1232" y="424" width="3" height="13" fill="#26a69a"/>
<rect x="1238" y="408" width="1" height="21" fill="#26a69a"/>
<rect x="1237" y="417" width="3" height="8" fill="#26a69a"/>
<rect x="1243" y="416" width="1" height="18" fill="#ef5350"/>
<rect x="1242" y="417" width="3" height="14" fill="#ef5350"/>
<rect x="1247" y="426" width="1" height="12" fill="#ef5350"/>
<rect x="1246" y="430" width="3" height="3" fill="#ef5350"/>
<rect x="1252" y="428" width="1" height="20" fill="#ef5350"/>
<rect x="1251" y="432" width="3" height="15" fill="#ef5350"/>
<rect x="1257" y="433" width="1" height="15" fill="#26a69a"/>
<rect x="1256" y="442" width="3" height="6" fill="#26a69a"/>
<rect x="1261" y="436" width="1" height="21" fill="#26a69a"/>
<rect x="1260" y="437" width="3" height="6" fill="#26a69a"/>
<rect x="1266" y="420" width="1" height="24" fill="#ef5350"/>
<rect x="1265" y="437" width="3" height="2" fill="#ef5350"/>
<rect x="1271" y="410" width="1" height="31" fill="#26a69a"/>
<rect x="1270" y="411" width="3" height="28" fill="#26a69a"/>
<rect x="1275" y="408" width="1" height="19" fill="#ef5350"/>
<rect x="1274" y="411" width="3" height="13" fill="#ef5350"/>
<rect x="1280" y="418" width="1" height="18" fill="#ef5350"/>
<rect x="1279" y="423" width="3" height="11" fill="#ef5350"/>
<rect x="1284" y="426" width="1" height="11" fill="#ef5350"/>
<rect x="1283" y="433" width="3" height="2" fill="#ef5350"/>
<rect x="1289" y="425" width="1" height="10" fill="#26a69a"/>
<rect x="1288" y="430" width="3" height="5" fill="#26a69a"/>
<rect x="1294" y="429" width="1" height="16" fill="#ef5350"/>
<rect x="1293" y="430" width="3" height="13" fill="#ef5350"/>
<rect x="1298" y="427" width="1" height="16" fill="#26a69a"/>
<rect x="1297" y="433" width="3" height="10" fill="#26a69a"/>
<rect x="1303" y="424" width="1" height="10" fill="#26a69a"/>
<rect x="1302" y="425" width="3" height="9" fill="#26a69a"/>
<rect x="1308" y="422" width="1" height="8" fill="#26a69a"/>
<rect x="1307" y="425" width="3" height="1" fill="#26a69a"/>
<rect x="1312" y="423" width="1" height="26" fill="#ef5350"/>
<rect x="1311" y="425" width="3" height="19" fill="#ef5350"/>
<rect x="1317" y="436" width="1" height="15" fill="#ef5350"/>
<rect x="1316" y="443" width="3" height="4" fill="#ef5350"/>
<rect x="1322" y="441" width="1" height="13" fill="#26a69a"/>
<rect x="1321" y="443" width="3" height="4" fill="#26a69a"/>
<rect x="1326" y="424" width="1" height="22" fill="#26a69a"/>
<rect x="1325" y="433" width="3" height="11" fill="#26a69a"/>
<rect x="1331" y="423" width="1" height="14" fill="#ef5350"/>
<rect x="1330" y="433" width="3" height="2" fill="#ef5350"/>
<rect x="1336" y="425" width="1" height="14" fill="#ef5350"/>
<rect x="1335" y="434" width="3" height="3" fill="#ef5350"/>
</g>
<line x1="13" y1="436.5" x2="1473" y2="436.5" stroke="#ef5350" stroke-width="1" stroke-dasharray="1 2" shape-rendering="crispEdges"/>
<g stroke="#8c8f99" stroke-width="1" stroke-dasharray="6 5" stroke-dashoffset="1.6" shape-rendering="crispEdges"><line x1="11" y1="707.5" x2="1474" y2="707.5"/><line x1="11" y1="766.5" x2="1474" y2="766.5"/></g>
<polyline fill="none" stroke="#2962ff" stroke-width="1.2" stroke-linejoin="round" points="10.0,766.5 15.6,763.6 21.1,756.2 26.0,756.2 29.8,751.0 34.5,745.5 38.9,745.5 43.9,737.1 48.3,724.5 53.0,708.5 57.7,706.8 62.6,715.6 66.8,716.4 76.9,732.4 81.1,715.6 85.6,709.3 90.3,709.3 95.3,709.7 100.4,709.3 105.4,707.7 108.8,706.3 113.5,680.8 118.8,679.1 123.9,680.8 127.6,682.5 132.3,691.7 137.3,712.7 142.4,726.1 145.7,731.7 150.8,733.2 156.3,736.2 160.8,736.2 165.9,736.7 170.1,737.9 173.8,755.9 179.3,761.1 183.5,760.6 188.6,747.1 192.7,739.6 197.5,733.7 202.3,731.2 206.7,717.2 211.2,716.4 215.9,718.6 220.8,715.6 225.2,710.5 230.0,711.5 235.1,706.3 239.4,714.4 244.0,722.3 248.7,723.6 253.2,719.4 258.3,721.4 263.3,722.4 266.7,722.3 271.8,723.6 276.0,727.3 281.0,726.1 285.5,728.2 289.9,732.5 294.9,709.0 299.8,729.2 304.2,727.8 308.7,708.0 313.7,707.7 317.9,728.3 322.5,727.5 327.7,733.7 331.9,742.6 336.9,736.2 341.1,738.7 345.7,776.5 350.7,779.6 355.2,782.7 365.0,805.6 369.5,800.9 374.2,798.4 378.9,796.7 383.4,793.7 388.5,791.3 393.2,790.0 397.2,780.7 402.3,773.2 406.1,799.2 410.7,788.8 415.9,787.1 419.9,782.4 425.4,782.7 430.0,788.6 434.7,783.2 439.2,781.2 444.2,778.7 448.1,773.5 453.1,773.5 457.7,770.1 462.4,765.6 466.9,762.8 472.0,747.1 475.8,750.8 480.9,748.3 485.4,753.5 490.1,751.7 494.8,758.1 499.3,749.7 504.0,746.0 508.6,731.2 513.2,726.3 522.9,742.4 532.2,723.1 536.9,727.0 541.4,725.8 545.9,717.4 551.0,724.8 555.3,725.6 560.2,720.6 564.1,734.0 569.1,730.3 574.1,731.2 582.9,732.5 588.4,731.7 596.8,731.2 602.2,730.7 606.4,725.6 611.4,723.1 616.1,718.6 620.0,705.1 624.9,707.7 629.1,698.1 634.1,693.4 638.8,726.6 643.0,726.5 648.0,741.6 652.7,739.6 657.3,731.5 661.8,730.0 666.5,728.3 671.1,727.0 676.1,721.6 680.8,718.2 685.0,719.4 690.0,720.3 694.6,727.0 699.3,734.5 703.5,753.9 708.0,770.7 713.0,778.7 717.7,779.9 721.9,777.9 727.0,779.0 731.7,782.4 735.9,784.4 740.8,769.0 745.8,755.9 750.2,754.4 755.0,749.7 760.1,750.5 764.4,746.3 768.7,708.0 774.1,704.3 778.3,705.7 782.8,702.3 787.2,706.0 792.2,692.2 797.3,707.3 806.0,707.3 811.0,715.6 815.2,715.2 820.3,718.6 824.8,716.9 829.5,712.7 834.2,708.2 839.1,713.2 842.9,711.9 848.0,716.6 852.2,708.2 856.9,694.7 861.9,700.6 866.1,707.7 871.0,704.3 876.2,702.6 879.9,718.2 884.9,719.1 890.0,721.1 894.2,735.7 898.9,737.4 903.7,736.2 908.1,737.6 913.0,735.0 917.7,733.2 922.2,734.5 926.6,733.7 931.1,730.7 935.8,732.4 940.7,749.3 945.1,752.5 949.6,736.2 955.0,727.8 959.2,706.5 963.9,710.7 968.6,714.1 973.1,717.7 977.8,732.9 982.3,742.1 987.0,749.2 991.6,749.7 996.3,753.0 1001.2,756.4 1005.9,749.2 1010.1,764.8 1015.1,760.6 1019.7,758.1 1023.9,765.6 1029.1,763.6 1034.1,768.1 1038.7,757.2 1043.4,747.1 1047.9,737.9 1052.6,732.0 1057.1,728.7 1061.7,726.1 1066.1,725.0 1070.6,703.5 1075.1,699.6 1080.2,702.6 1084.9,711.0 1089.1,712.4 1093.6,711.9 1098.6,713.2 1103.0,711.4 1107.9,712.4 1112.6,725.8 1116.8,719.4 1121.8,727.8 1126.8,738.7 1131.0,742.4 1136.1,740.4 1140.8,738.4 1145.0,742.4 1149.9,741.3 1154.1,742.1 1158.8,750.5 1163.8,755.5 1168.0,756.4 1173.0,756.4 1177.7,756.4 1181.9,732.9 1187.0,728.2 1191.5,730.3 1196.6,730.0 1200.7,730.3 1205.8,731.2 1210.3,731.7 1215.0,735.4 1219.7,737.4 1224.3,739.6 1229.0,706.3 1233.5,711.0 1238.0,714.9 1242.7,716.9 1247.1,718.1 1252.1,715.7 1256.8,726.1 1261.0,705.1 1266.0,709.7 1270.7,700.9 1275.3,699.3 1280.0,697.3 1284.8,699.6 1289.2,705.7 1293.7,706.3 1297.9,706.3 1303.0,710.2 1307.7,714.4 1312.2,709.0 1316.9,711.0 1321.8,711.9 1326.2,704.3 1331.2,709.3 1335.7,716.4"/>
<g fill="#ffeb3b" shape-rendering="crispEdges">
<rect x="114" y="28" width="1" height="791"/>
<rect x="314" y="28" width="1" height="791"/>
<rect x="625" y="28" width="1" height="791"/>
<rect x="732" y="28" width="1" height="791"/>
<rect x="792" y="28" width="1" height="791"/>
<rect x="1034" y="28" width="1" height="791"/>
<rect x="1075" y="28" width="1" height="791"/>
</g>
<g stroke="#ffeb3b" stroke-width="2" fill="none" stroke-linecap="round">
<polyline stroke-linejoin="round" points="123.5,152.8 314.5,220.8 365.5,361.5 370,366.3"/>
<polyline stroke-linejoin="round" points="368.6,353.5 370,366.3 356.3,368"/>
<line x1="625.5" y1="378.5" x2="727.6" y2="305.5"/>
<polyline stroke-linejoin="round" points="714.2,303.2 727.6,305.5 725.2,318.6"/>
<line x1="797.8" y1="302.9" x2="1034" y2="397.7"/>
<polyline stroke-linejoin="round" points="1028.2,385.6 1034,397.7 1021.3,403.8"/>
<line x1="1081" y1="399.6" x2="1164.2" y2="489.2"/>
<polyline stroke-linejoin="round" points="1164.8,476.4 1164.2,489.2 1150.8,489.2"/>
</g>
<g stroke="#4caf50" stroke-width="3" fill="#4caf50" fill-opacity="0.2">
<rect x="374.5" y="356.5" width="246" height="170"/>
<rect x="732.5" y="278.5" width="55" height="41"/>
<rect x="1038.5" y="366.5" width="37" height="41"/>
</g>
<g fill="#2e323d" shape-rendering="crispEdges">
<rect x="11" y="662" width="1526" height="1"/>
<rect x="11" y="819" width="1526" height="1"/>
<rect x="1474" y="28" width="1" height="818"/>
</g>
<text x="10" y="19" fill="#d1d4dc" stroke="#d1d4dc" stroke-width="0.5" font-size="11.4" textLength="348.5" lengthAdjust="spacingAndGlyphs">Pooki_ published on TradingView.com, Dec 12, 2021 14:38 UTC+1</text>
<text x="18.1" y="45.5" fill="#b2b5be" text-anchor="start" textLength="51.5" lengthAdjust="spacingAndGlyphs" xml:space="preserve">Ethereum</text>
<text x="75" y="45.5" fill="#b2b5be" text-anchor="start" textLength="4.6" lengthAdjust="spacingAndGlyphs" xml:space="preserve">/</text>
<text x="85" y="45.5" fill="#b2b5be" text-anchor="start" textLength="49.7" lengthAdjust="spacingAndGlyphs" xml:space="preserve">TetherUS,</text>
<text x="140.2" y="45.5" fill="#b2b5be" text-anchor="start" textLength="15.3" lengthAdjust="spacingAndGlyphs" xml:space="preserve">1h,</text>
<text x="161" y="45.5" fill="#b2b5be" text-anchor="start" textLength="45.2" lengthAdjust="spacingAndGlyphs" xml:space="preserve">BINANCE</text>
<text x="214.3" y="45.5" fill="#b2b5be" text-anchor="start" textLength="7.5" lengthAdjust="spacingAndGlyphs" xml:space="preserve">O</text>
<text x="222.5" y="45.5" fill="#ef5350" text-anchor="start" textLength="40.7" lengthAdjust="spacingAndGlyphs" xml:space="preserve">4034.91</text>
<text x="271.8" y="45.5" fill="#b2b5be" text-anchor="start" textLength="7.5" lengthAdjust="spacingAndGlyphs" xml:space="preserve">H</text>
<text x="280" y="45.5" fill="#ef5350" text-anchor="start" textLength="40.7" lengthAdjust="spacingAndGlyphs" xml:space="preserve">4055.31</text>
<text x="328.8" y="45.5" fill="#b2b5be" text-anchor="start" textLength="5.5" lengthAdjust="spacingAndGlyphs" xml:space="preserve">L</text>
<text x="334.7" y="45.5" fill="#ef5350" text-anchor="start" textLength="41.6" lengthAdjust="spacingAndGlyphs" xml:space="preserve">4022.72</text>
<text x="384" y="45.5" fill="#b2b5be" text-anchor="start" textLength="7" lengthAdjust="spacingAndGlyphs" xml:space="preserve">C</text>
<text x="391.5" y="45.5" fill="#ef5350" text-anchor="start" textLength="41.3" lengthAdjust="spacingAndGlyphs" xml:space="preserve">4029.29</text>
<text x="440.9" y="45.5" fill="#ef5350" text-anchor="start" textLength="78.3" lengthAdjust="spacingAndGlyphs" xml:space="preserve">−5.62 (−0.14%)</text>
<text x="17.7" y="682" fill="#b2b5be" text-anchor="start" textLength="69.3" lengthAdjust="spacingAndGlyphs" xml:space="preserve">CHOP (14, 0)</text>
<text x="94.5" y="682" fill="#2962ff" text-anchor="start" textLength="29.4" lengthAdjust="spacingAndGlyphs" xml:space="preserve">58.14</text>
<text x="1484" y="44.9" fill="#b2b5be" text-anchor="start" textLength="42.2" lengthAdjust="spacingAndGlyphs" xml:space="preserve">5000.00</text>
<text x="1484" y="85.6" fill="#b2b5be" text-anchor="start" textLength="42.2" lengthAdjust="spacingAndGlyphs" xml:space="preserve">4900.00</text>
<text x="1484" y="126.4" fill="#b2b5be" text-anchor="start" textLength="42.2" lengthAdjust="spacingAndGlyphs" xml:space="preserve">4800.00</text>
<text x="1484" y="167.2" fill="#b2b5be" text-anchor="start" textLength="42.2" lengthAdjust="spacingAndGlyphs" xml:space="preserve">4700.00</text>
<text x="1484" y="207.9" fill="#b2b5be" text-anchor="start" textLength="42.2" lengthAdjust="spacingAndGlyphs" xml:space="preserve">4600.00</text>
<text x="1484" y="248.7" fill="#b2b5be" text-anchor="start" textLength="42.2" lengthAdjust="spacingAndGlyphs" xml:space="preserve">4500.00</text>
<text x="1484" y="289.4" fill="#b2b5be" text-anchor="start" textLength="42.2" lengthAdjust="spacingAndGlyphs" xml:space="preserve">4400.00</text>
<text x="1484" y="330.2" fill="#b2b5be" text-anchor="start" textLength="42.2" lengthAdjust="spacingAndGlyphs" xml:space="preserve">4300.00</text>
<text x="1484" y="370.9" fill="#b2b5be" text-anchor="start" textLength="42.2" lengthAdjust="spacingAndGlyphs" xml:space="preserve">4200.00</text>
<text x="1484" y="411.7" fill="#b2b5be" text-anchor="start" textLength="42.2" lengthAdjust="spacingAndGlyphs" xml:space="preserve">4100.00</text>
<text x="1484" y="452.4" fill="#b2b5be" text-anchor="start" textLength="42.2" lengthAdjust="spacingAndGlyphs" xml:space="preserve">4000.00</text>
<text x="1484" y="493.2" fill="#b2b5be" text-anchor="start" textLength="42.2" lengthAdjust="spacingAndGlyphs" xml:space="preserve">3900.00</text>
<text x="1484" y="533.9" fill="#b2b5be" text-anchor="start" textLength="42.2" lengthAdjust="spacingAndGlyphs" xml:space="preserve">3800.00</text>
<text x="1484" y="574.6" fill="#b2b5be" text-anchor="start" textLength="42.2" lengthAdjust="spacingAndGlyphs" xml:space="preserve">3700.00</text>
<text x="1484" y="615.4" fill="#b2b5be" text-anchor="start" textLength="42.2" lengthAdjust="spacingAndGlyphs" xml:space="preserve">3600.00</text>
<text x="1484" y="656.1" fill="#b2b5be" text-anchor="start" textLength="42.2" lengthAdjust="spacingAndGlyphs" xml:space="preserve">3500.00</text>
<text x="1484" y="716.1" fill="#b2b5be" text-anchor="start" textLength="29.6" lengthAdjust="spacingAndGlyphs" xml:space="preserve">60.00</text>
<text x="1484" y="766.3" fill="#b2b5be" text-anchor="start" textLength="29.6" lengthAdjust="spacingAndGlyphs" xml:space="preserve">40.00</text>
<text x="1484" y="815.0" fill="#b2b5be" text-anchor="start" textLength="29.6" lengthAdjust="spacingAndGlyphs" xml:space="preserve">20.00</text>
<rect x="1488.5" y="33.5" width="35" height="18" rx="4" fill="#181c27" stroke="#363a45"/>
<text x="1506" y="46.8" fill="#d1d4dc" text-anchor="middle" textLength="26.5" lengthAdjust="spacingAndGlyphs" xml:space="preserve">USDT</text>
<rect x="1474" y="428" width="59" height="31" rx="1.5" fill="#ef5350"/>
<text x="1484" y="441.3" fill="#ffffff" text-anchor="start" textLength="42.2" lengthAdjust="spacingAndGlyphs" font-weight="bold" xml:space="preserve">4029.29</text>
<text x="1484" y="455.3" fill="#ffd7d6" text-anchor="start" textLength="29.6" lengthAdjust="spacingAndGlyphs" xml:space="preserve">21:23</text>
<text x="44.3" y="837" fill="#b2b5be" text-anchor="middle" textLength="20.5" lengthAdjust="spacingAndGlyphs" font-weight="bold" xml:space="preserve">Dec</text>
<text x="379.1" y="837" fill="#b2b5be" text-anchor="middle" xml:space="preserve">4</text>
<text x="490.6" y="837" fill="#b2b5be" text-anchor="middle" xml:space="preserve">5</text>
<text x="936.6" y="837" fill="#b2b5be" text-anchor="middle" xml:space="preserve">9</text>
<text x="1159.6" y="837" fill="#b2b5be" text-anchor="middle" xml:space="preserve">11</text>
<text x="1271.1" y="837" fill="#b2b5be" text-anchor="middle" xml:space="preserve">12</text>
<text x="1382.6" y="837" fill="#b2b5be" text-anchor="middle" xml:space="preserve">13</text>
<path d="M58.0,819 h113 v22 a2,2 0 0 1 -2,2 h-109 a2,2 0 0 1 -2,-2 z" fill="#ffeb3b"/>
<text x="67.0" y="838" fill="#131722" text-anchor="start" textLength="53" lengthAdjust="spacingAndGlyphs" xml:space="preserve">01 Dec '21</text>
<text x="132.0" y="838" fill="#131722" text-anchor="start" textLength="29.5" lengthAdjust="spacingAndGlyphs" xml:space="preserve">15:00</text>
<path d="M258.0,819 h113 v22 a2,2 0 0 1 -2,2 h-109 a2,2 0 0 1 -2,-2 z" fill="#ffeb3b"/>
<text x="267.0" y="838" fill="#131722" text-anchor="start" textLength="53" lengthAdjust="spacingAndGlyphs" xml:space="preserve">03 Dec '21</text>
<text x="332.0" y="838" fill="#131722" text-anchor="start" textLength="29.5" lengthAdjust="spacingAndGlyphs" xml:space="preserve">10:00</text>
<path d="M569.0,819 h113 v22 a2,2 0 0 1 -2,2 h-109 a2,2 0 0 1 -2,-2 z" fill="#ffeb3b"/>
<text x="578.0" y="838" fill="#131722" text-anchor="start" textLength="53" lengthAdjust="spacingAndGlyphs" xml:space="preserve">06 Dec '21</text>
<text x="643.0" y="838" fill="#131722" text-anchor="start" textLength="29.5" lengthAdjust="spacingAndGlyphs" xml:space="preserve">05:00</text>
<path d="M676.0,819 h113 v22 a2,2 0 0 1 -2,2 h-109 a2,2 0 0 1 -2,-2 z" fill="#ffeb3b"/>
<text x="685.0" y="838" fill="#131722" text-anchor="start" textLength="53" lengthAdjust="spacingAndGlyphs" xml:space="preserve">07 Dec '21</text>
<text x="750.0" y="838" fill="#131722" text-anchor="start" textLength="29.5" lengthAdjust="spacingAndGlyphs" xml:space="preserve">04:00</text>
<path d="M736.0,819 h113 v22 a2,2 0 0 1 -2,2 h-109 a2,2 0 0 1 -2,-2 z" fill="#ffeb3b"/>
<text x="745.0" y="838" fill="#131722" text-anchor="start" textLength="53" lengthAdjust="spacingAndGlyphs" xml:space="preserve">07 Dec '21</text>
<text x="810.0" y="838" fill="#131722" text-anchor="start" textLength="29.5" lengthAdjust="spacingAndGlyphs" xml:space="preserve">17:00</text>
<path d="M978.0,819 h113 v22 a2,2 0 0 1 -2,2 h-109 a2,2 0 0 1 -2,-2 z" fill="#ffeb3b"/>
<text x="987.0" y="838" fill="#131722" text-anchor="start" textLength="53" lengthAdjust="spacingAndGlyphs" xml:space="preserve">09 Dec '21</text>
<text x="1052.0" y="838" fill="#131722" text-anchor="start" textLength="29.5" lengthAdjust="spacingAndGlyphs" xml:space="preserve">21:00</text>
<path d="M1019.0,819 h113 v22 a2,2 0 0 1 -2,2 h-109 a2,2 0 0 1 -2,-2 z" fill="#ffeb3b"/>
<text x="1028.0" y="838" fill="#131722" text-anchor="start" textLength="53" lengthAdjust="spacingAndGlyphs" xml:space="preserve">10 Dec '21</text>
<text x="1093.0" y="838" fill="#131722" text-anchor="start" textLength="29.5" lengthAdjust="spacingAndGlyphs" xml:space="preserve">06:00</text>
<g fill="#d1d4dc">
<path d="M10,859.4 h9.4 v9.4 h-5.2 v-5.5 h-4.2 z"/>
<circle cx="21.7" cy="861.3" r="1.9"/>
<path d="M24.6,859.4 h4.9 l-4.3,9.4 h-4.5 z"/>
</g>
<text x="33.5" y="868.6" fill="#d1d4dc" stroke="#d1d4dc" stroke-width="0.45" font-size="13" textLength="70" lengthAdjust="spacingAndGlyphs">TradingView</text>
</svg>
</body></html>
